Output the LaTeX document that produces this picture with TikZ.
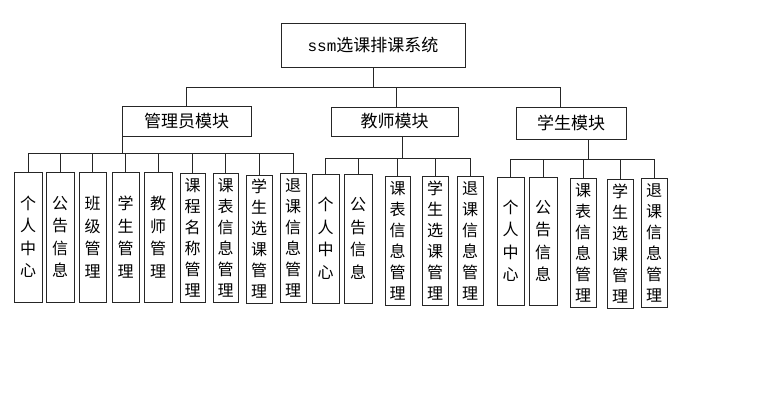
\documentclass[tikz,border=0pt]{standalone}
\usepackage{fontspec}
\setmainfont{Noto Sans CJK SC}
\setmonofont{Liberation Mono}
\begin{document}
\begin{tikzpicture}[x=1pt,y=-1pt,
  box/.style={draw=black!85,line width=0.8pt,inner sep=0pt,font=\fontsize{17}{20}\selectfont},
  col/.style={box,align=center,font=\fontsize{16}{22.5}\selectfont},
  colsix/.style={box,align=center,font=\fontsize{16}{21}\selectfont},
  wire/.style={draw=black!85,line width=0.8pt}]
\useasboundingbox (0,0) rectangle (767,404);
% top
\node[box,minimum width=184pt,minimum height=44pt] (root) at (373,45) {{\ttfamily\fontsize{16}{20}\selectfont ssm}选课排课系统};
\node[box,minimum width=129pt,minimum height=30pt] (admin) at (186.5,121) {管理员模块};
\node[box,minimum width=127pt,minimum height=29pt] (teacher) at (394.5,121.5) {教师模块};
\node[box,minimum width=110pt,minimum height=32pt] (student) at (571,123) {学生模块};
% admin children
\node[col,minimum width=28pt,minimum height=130pt] (a1) at (28,237) {个\\人\\中\\心};
\node[col,minimum width=28pt,minimum height=130pt] (a2) at (60,237) {公\\告\\信\\息};
\node[col,minimum width=27pt,minimum height=130pt] (a3) at (92.5,237) {班\\级\\管\\理};
\node[col,minimum width=27pt,minimum height=130pt] (a4) at (125.5,237) {学\\生\\管\\理};
\node[col,minimum width=28pt,minimum height=130pt] (a5) at (158,237) {教\\师\\管\\理};
\node[colsix,minimum width=25pt,minimum height=129pt] (a6) at (192.5,237.5) {课\\程\\名\\称\\管\\理};
\node[colsix,minimum width=25pt,minimum height=129pt] (a7) at (225.5,237.5) {课\\表\\信\\息\\管\\理};
\node[colsix,minimum width=26pt,minimum height=128pt] (a8) at (259,239) {学\\生\\选\\课\\管\\理};
\node[colsix,minimum width=26pt,minimum height=129pt] (a9) at (293,237.5) {退\\课\\信\\息\\管\\理};
% teacher children
\node[col,minimum width=27pt,minimum height=129pt] (t1) at (325.5,238.5) {个\\人\\中\\心};
\node[col,minimum width=28pt,minimum height=129pt] (t2) at (358,238.5) {公\\告\\信\\息};
\node[colsix,minimum width=25pt,minimum height=129pt] (t3) at (397.5,240.5) {课\\表\\信\\息\\管\\理};
\node[colsix,minimum width=26pt,minimum height=129pt] (t4) at (435,240.5) {学\\生\\选\\课\\管\\理};
\node[colsix,minimum width=26pt,minimum height=129pt] (t5) at (470,240.5) {退\\课\\信\\息\\管\\理};
% student children
\node[col,minimum width=27pt,minimum height=128pt] (s1) at (510.5,241) {个\\人\\中\\心};
\node[col,minimum width=28pt,minimum height=128pt] (s2) at (543,241) {公\\告\\信\\息};
\node[colsix,minimum width=26pt,minimum height=129pt] (s3) at (583,242.5) {课\\表\\信\\息\\管\\理};
\node[colsix,minimum width=26pt,minimum height=129pt] (s4) at (620,243.5) {学\\生\\选\\课\\管\\理};
\node[colsix,minimum width=26pt,minimum height=129pt] (s5) at (654,242.5) {退\\课\\信\\息\\管\\理};
% bus coordinates
\coordinate (rbus) at (373,87);
\coordinate (adminin) at (186,106);
\coordinate (teacherin) at (396,107);
\coordinate (studentin) at (560,107);
\coordinate (abus) at (122,153);
\coordinate (tbus) at (402,158);
\coordinate (sbus) at (588,159);
% connectors
\draw[wire] (root.south -| rbus) -- (rbus);
\draw[wire] (rbus) -| (adminin);
\draw[wire] (rbus) -| (teacherin);
\draw[wire] (rbus) -| (studentin);
\draw[wire] (admin.south -| abus) -- (abus);
\draw[wire] (teacher.south -| tbus) -- (tbus);
\draw[wire] (student.south -| sbus) -- (sbus);
\foreach \c in {a1,a2,a3,a4,a5,a6,a7,a8,a9}{\draw[wire] (abus) -| (\c.north);}
\foreach \c in {t1,t2,t3,t4,t5}{\draw[wire] (tbus) -| (\c.north);}
\foreach \c in {s1,s2,s3,s4,s5}{\draw[wire] (sbus) -| (\c.north);}
\end{tikzpicture}
\end{document}
